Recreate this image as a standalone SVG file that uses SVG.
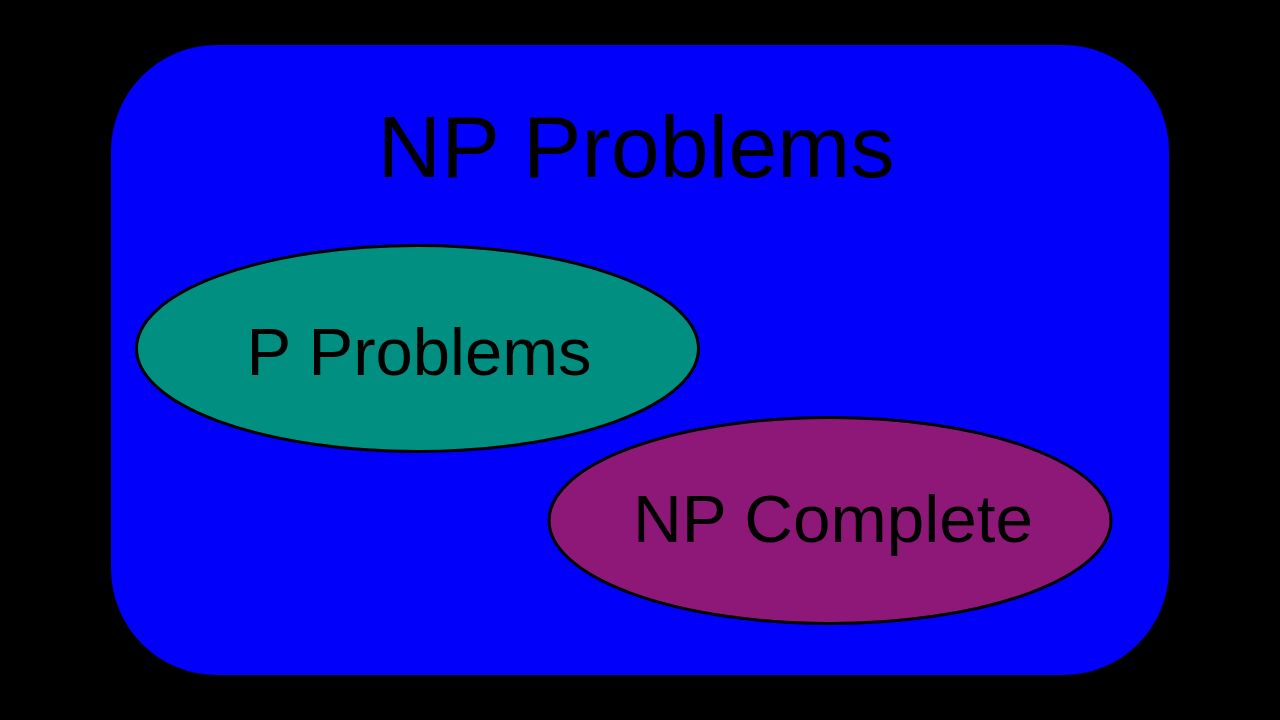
<svg xmlns="http://www.w3.org/2000/svg" width="1280" height="720" viewBox="0 0 1280 720">
<style>
.lbl{font-family:"Liberation Sans",Arial,sans-serif;fill:#000;text-anchor:middle}
.set{stroke:#000;stroke-width:3}
</style>
<rect x="0" y="0" width="1280" height="720" fill="#000"/>
<g id="np">
<rect x="111" y="45" width="1058" height="630" rx="106" ry="106" fill="#0000fb"/>
<text class="lbl" x="636" y="177" font-size="88">NP Problems</text>
</g>
<g id="connectors"></g>
<g id="p">
<ellipse class="set" cx="417.5" cy="348.5" rx="281" ry="103" fill="#008f80"/>
<text class="lbl" x="419" y="375" font-size="67">P Problems</text>
</g>
<g id="npc">
<ellipse class="set" cx="830" cy="520.5" rx="281" ry="103" fill="#8e1878"/>
<text class="lbl" x="833" y="542" font-size="67.5">NP Complete</text>
</g>
</svg>
